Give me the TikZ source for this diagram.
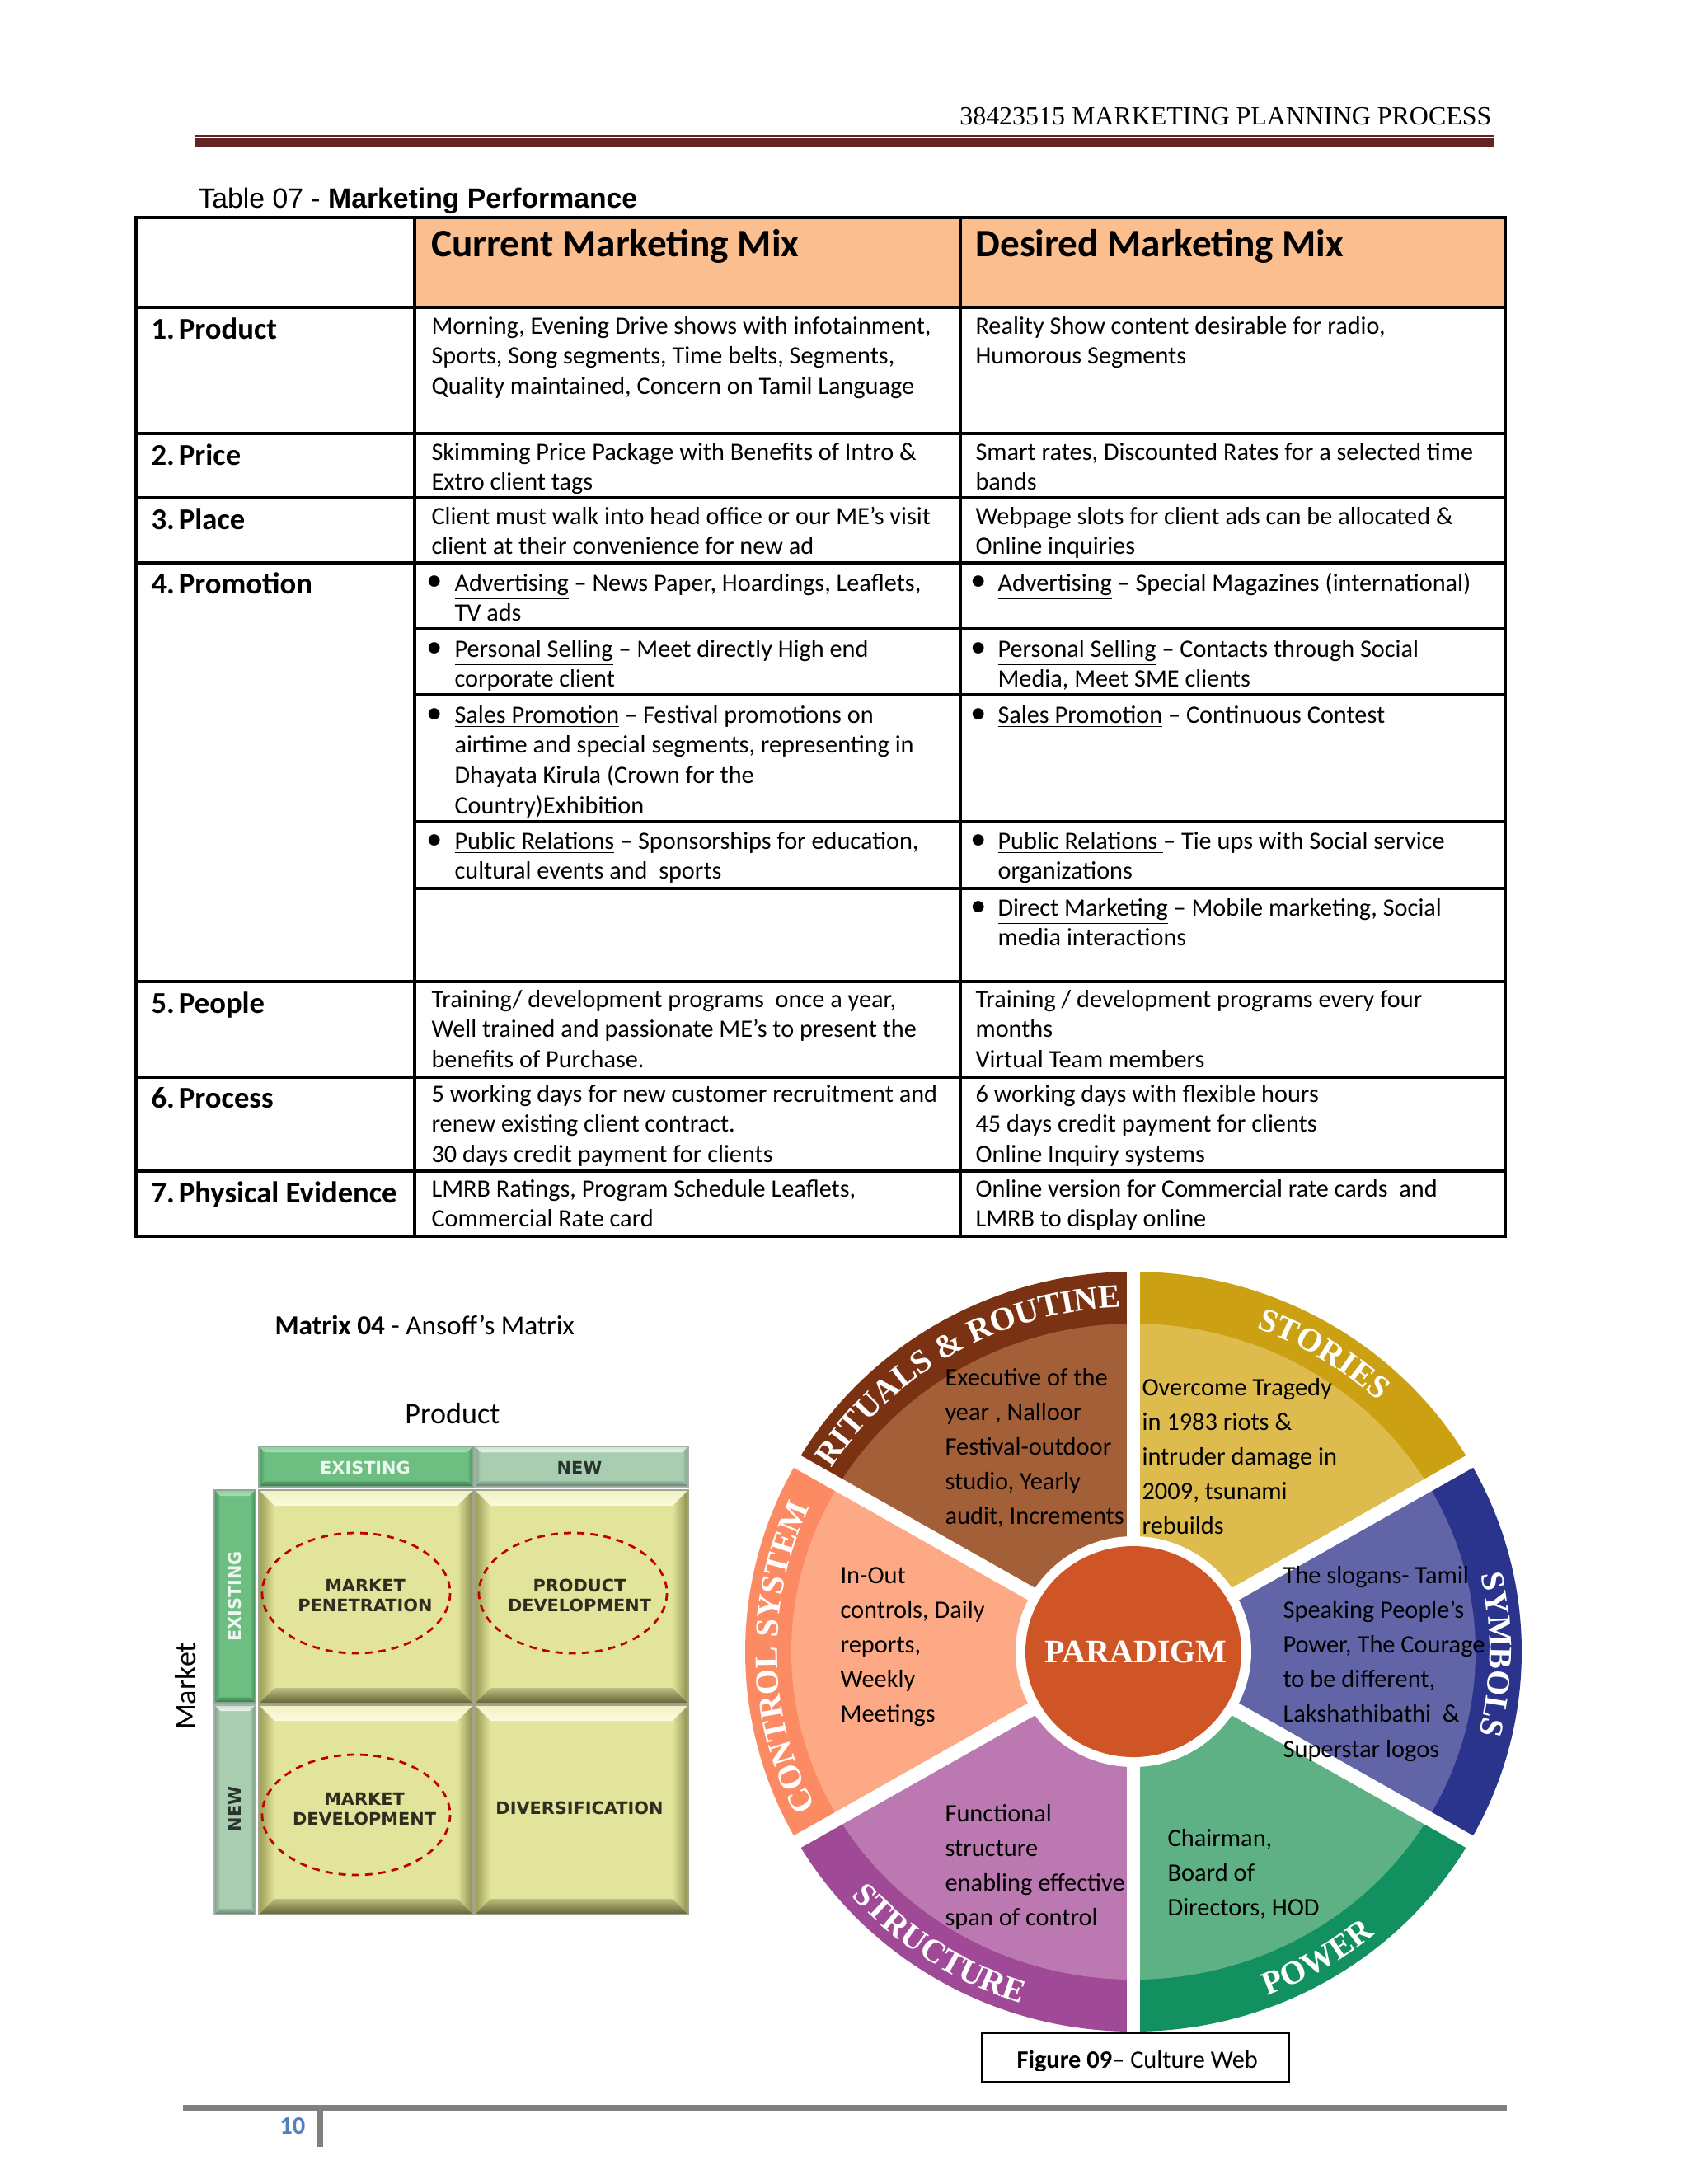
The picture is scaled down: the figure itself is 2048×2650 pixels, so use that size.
\documentclass[tikz,border=0pt]{standalone}
\usepackage{fontspec}
\usepackage{xcolor}
\usetikzlibrary{decorations.text}
\setmainfont{Carlito}
\newfontfamily\headfont{Liberation Serif}
\newfontfamily\captionfont{Liberation Sans}
\newfontfamily\cellfont{DejaVu Sans}

\definecolor{rulered}{HTML}{622423}
\definecolor{headfill}{HTML}{FBBF8F}
\definecolor{footgray}{HTML}{808080}
\definecolor{footblue}{HTML}{4F81BD}
\definecolor{ringred}{HTML}{C00000}
\definecolor{yeltop}{HTML}{FBFBE0}
\definecolor{yelface}{HTML}{E2E49B}
\definecolor{yelleft}{HTML}{9C9E58}
\definecolor{yelright}{HTML}{8E9050}
\definecolor{yelbot}{HTML}{66663A}
\definecolor{yeledge}{HTML}{A3A48F}
\definecolor{gretop}{HTML}{A8DDB3}
\definecolor{greface}{HTML}{6CBF80}
\definecolor{greleft}{HTML}{4F9A65}
\definecolor{greright}{HTML}{4A9360}
\definecolor{grebot}{HTML}{3A7A4C}
\definecolor{greedge}{HTML}{8FA898}
\definecolor{paltop}{HTML}{EAF3EC}
\definecolor{palface}{HTML}{A9CDB1}
\definecolor{palleft}{HTML}{86A890}
\definecolor{palright}{HTML}{7F9E88}
\definecolor{palbot}{HTML}{66846E}
\definecolor{paledge}{HTML}{A5B3A9}
\definecolor{storyband}{HTML}{CBA012}
\definecolor{storyface}{HTML}{DDBB4D}
\definecolor{symband}{HTML}{2B348C}
\definecolor{symface}{HTML}{6165A7}
\definecolor{powband}{HTML}{12905F}
\definecolor{powface}{HTML}{5EB184}
\definecolor{strband}{HTML}{A04A97}
\definecolor{strface}{HTML}{BC78B0}
\definecolor{conband}{HTML}{FC8B63}
\definecolor{conface}{HTML}{FDA985}
\definecolor{ritband}{HTML}{7B3212}
\definecolor{ritface}{HTML}{A25F38}
\definecolor{hubfill}{HTML}{CF5527}

\newcommand{\celllines}[1]{\begin{tabular}[t]{@{}l@{}}#1\end{tabular}}
\newcommand{\wheelfmt}{\headfont\bfseries\fontsize{14.4}{15}\selectfont\color{white}}
\newcommand{\bevelbox}[6]{%
    \fill[#5edge] (#1,#2) rectangle (#3,#4);
    \fill[#5face] ({#1+2},{#2+2}) rectangle ({#3-2},{#4-2});
    \shade[top color=#5top!60!#5face,bottom color=#5top] ({#1+2},{#2+2}) -- ({#3-2},{#2+2}) -- ({#3-2-#6},{#2+2+#6}) -- ({#1+2+#6},{#2+2+#6}) -- cycle;
    \shade[left color=#5left,right color=#5face] ({#1+2},{#2+2}) -- ({#1+2+#6},{#2+2+#6}) -- ({#1+2+#6},{#4-2-#6}) -- ({#1+2},{#4-2}) -- cycle;
    \shade[right color=#5right,left color=#5face] ({#3-2},{#2+2}) -- ({#3-2-#6},{#2+2+#6}) -- ({#3-2-#6},{#4-2-#6}) -- ({#3-2},{#4-2}) -- cycle;
    \shade[bottom color=#5bot,top color=#5face!70!#5bot] ({#1+2},{#4-2}) -- ({#1+2+#6},{#4-2-#6}) -- ({#3-2-#6},{#4-2-#6}) -- ({#3-2},{#4-2}) -- cycle;
}

\tikzset{
    gridline/.style={line width=1.7pt,black},
    bodytext/.style={anchor=base west,inner sep=0pt,font=\fontsize{10.9}{13.3}\selectfont},
    rowname/.style={anchor=base west,inner sep=0pt,font=\fontsize{13.2}{15}\selectfont\bfseries},
    colname/.style={anchor=base west,inner sep=0pt,font=\fontsize{17}{19}\selectfont\bfseries},
    bulletmark/.style={anchor=base,inner sep=0pt,font=\fontsize{14}{15}\selectfont},
    wheeltext/.style={anchor=base west,inner sep=0pt,font=\fontsize{10.95}{15.2}\selectfont},
    celllabel/.style={anchor=base,inner sep=0pt,align=center,text=#1,font=\cellfont\bfseries\fontsize{7.5}{8.3}\selectfont},
    ring/.style={draw=ringred,line width=1pt,dash pattern=on 3.2pt off 2.6pt},
}

\begin{document}
\begin{tikzpicture}[x=0.36pt,y=-0.36pt]
    \useasboundingbox (0,0) rectangle (2048,2650);

    \node[anchor=base east,inner sep=0pt,font=\headfont\fontsize{11.5}{14}\selectfont] (running) at (1810,151) {38423515 MARKETING PLANNING PROCESS};
    \fill[rulered] (236,164) rectangle (1813,166);
    \fill[rulered] (236,168) rectangle (1813,178);
    \node[anchor=base west,inner sep=0pt,font=\captionfont\fontsize{12.15}{14}\selectfont] (tabcap) at (240,252) {Table 07 - \textbf{Marketing Performance}};

    \fill[headfill] (503,264) rectangle (1826,373);
    \foreach \y in {264,373,526,604,683,1191,1307,1421,1500}
        \draw[gridline] (165,\y) -- (1826,\y);
    \foreach \y in {763,843,997,1078}
        \draw[gridline] (503,\y) -- (1826,\y);
    \foreach \x in {165,503,1165,1826}
        \draw[gridline,line cap=rect] (\x,264) -- (\x,1500);

    \node[colname] (curhead) at (523,311) {Current Marketing Mix};
    \node[colname] (deshead) at (1183,311) {Desired Marketing Mix};

    \node[rowname] (rowA) at (183,411) {\makebox[12pt][l]{1.}Product};
    \node[rowname] (rowB) at (183,564) {\makebox[12pt][l]{2.}Price};
    \node[rowname] (rowC) at (183,642) {\makebox[12pt][l]{3.}Place};
    \node[rowname] (rowD) at (183,720) {\makebox[12pt][l]{4.}Promotion};
    \node[rowname] (rowE) at (183,1229) {\makebox[12pt][l]{5.}People};
    \node[rowname] (rowF) at (183,1344) {\makebox[12pt][l]{6.}Process};
    \node[rowname] (rowG) at (183,1459) {\makebox[12pt][l]{7.}Physical Evidence};

    \node[bodytext] (curA) at (523,405) {\celllines{Morning, Evening Drive shows with infotainment,\\Sports, Song segments, Time belts, Segments,\\Quality maintained, Concern on Tamil Language}};
    \node[bodytext] (desA) at (1183,405) {\celllines{Reality Show content desirable for radio,\\Humorous Segments}};
    \node[bodytext] (curB) at (523,558) {\celllines{Skimming Price Package with Benefits of Intro \&\\Extro client tags}};
    \node[bodytext] (desB) at (1183,558) {\celllines{Smart rates, Discounted Rates for a selected time\\bands}};
    \node[bodytext] (curC) at (523,636) {\celllines{Client must walk into head office or our ME’s visit\\client at their convenience for new ad}};
    \node[bodytext] (desC) at (1183,636) {\celllines{Webpage slots for client ads can be allocated \&\\Online inquiries}};

    \foreach \x in {527,1187}
        \foreach \y in {716,797,877,1030}
            \node[bulletmark] (dot\x\y) at (\x,\y) {\textbullet};
    \node[bulletmark] (dotlast) at (1187,1111) {\textbullet};

    \node[bodytext] (curDa) at (551,717) {\celllines{\underline{Advertising} – News Paper, Hoardings, Leaflets,\\TV ads}};
    \node[bodytext] (desDa) at (1210,717) {\celllines{\underline{Advertising} – Special Magazines (international)}};
    \node[bodytext] (curDb) at (551,797) {\celllines{\underline{Personal Selling} – Meet directly High end\\corporate client}};
    \node[bodytext] (desDb) at (1210,797) {\celllines{\underline{Personal Selling} – Contacts through Social\\Media, Meet SME clients}};
    \node[bodytext] (curDc) at (551,877) {\celllines{\underline{Sales Promotion} – Festival promotions on\\airtime and special segments, representing in\\Dhayata Kirula (Crown for the\\Country)Exhibition}};
    \node[bodytext] (desDc) at (1210,877) {\celllines{\underline{Sales Promotion} – Continuous Contest}};
    \node[bodytext] (curDd) at (551,1030) {\celllines{\underline{Public Relations} – Sponsorships for education,\\cultural events and~ sports}};
    \node[bodytext] (desDd) at (1210,1030) {\celllines{\underline{Public Relations }– Tie ups with Social service\\organizations}};
    \node[bodytext] (desDe) at (1210,1111) {\celllines{\underline{Direct Marketing} – Mobile marketing, Social\\media interactions}};

    \node[bodytext] (curE) at (523,1222) {\celllines{Training/ development programs~ once a year,\\Well trained and passionate ME’s to present the\\benefits of Purchase.}};
    \node[bodytext] (desE) at (1183,1222) {\celllines{Training / development programs every four\\months\\Virtual Team members}};
    \node[bodytext] (curF) at (523,1337) {\celllines{5 working days for new customer recruitment and\\renew existing client contract.\\30 days credit payment for clients}};
    \node[bodytext] (desF) at (1183,1337) {\celllines{6 working days with flexible hours\\45 days credit payment for clients\\Online Inquiry systems}};
    \node[bodytext] (curG) at (523,1452) {\celllines{LMRB Ratings, Program Schedule Leaflets,\\Commercial Rate card}};
    \node[bodytext] (desG) at (1183,1452) {\celllines{Online version for Commercial rate cards~ and\\LMRB to display online}};

    \node[anchor=base west,inner sep=0pt,font=\fontsize{12}{14}\selectfont] (mattitle) at (333,1619) {\textbf{Matrix 04} - Ansoff’s Matrix};
    \node[anchor=base,inner sep=0pt,font=\fontsize{13}{15}\selectfont] (prodlabel) at (549,1727) {Product};
    \node[anchor=base,inner sep=0pt,rotate=90,font=\fontsize{13}{15}\selectfont] (marklabel) at (237,2046) {Market};

    \bevelbox{313}{1754}{575}{1805}{gre}{6}
    \bevelbox{575}{1754}{836}{1805}{pal}{6}
    \bevelbox{259}{1807}{311}{2067}{gre}{6}
    \bevelbox{259}{2068}{311}{2324}{pal}{6}
    \bevelbox{313}{1807}{575}{2068}{yel}{18}
    \bevelbox{575}{1807}{836}{2068}{yel}{18}
    \bevelbox{313}{2068}{575}{2324}{yel}{18}
    \bevelbox{575}{2068}{836}{2324}{yel}{18}

    \node[celllabel=white!88!greface] (hexist) at (443,1788) {EXISTING};
    \node[celllabel=black!75!palface] (hnew) at (703,1788) {NEW};
    \node[celllabel=white!88!greface,rotate=90] (vexist) at (292,1937) {EXISTING};
    \node[celllabel=black!75!palface,rotate=90] (vnew) at (292,2195) {NEW};
    \node[celllabel=black!80!yelface] (penet) at (443,1955) {MARKET\\PENETRATION};
    \node[celllabel=black!80!yelface] (proddev) at (703,1955) {PRODUCT\\DEVELOPMENT};
    \node[celllabel=black!80!yelface] (markdev) at (442,2214) {MARKET\\DEVELOPMENT};
    \node[celllabel=black!80!yelface] (divers) at (703,2201) {DIVERSIFICATION};

    \draw[ring] (432,1933) ellipse [x radius=114,y radius=73];
    \draw[ring] (695,1933) ellipse [x radius=114,y radius=73];
    \draw[ring] (432,2202) ellipse [x radius=114,y radius=73];

    \begin{scope}[shift={(1375,2004)},y=0.36pt]
        \foreach \ang/\band/\face in {90/storyband/storyface,30/symband/symface,-30/powband/powface,-90/strband/strface,-150/conband/conface,150/ritband/ritface}{
            \fill[\band] (0,0) -- (\ang:471 and 461) arc [start angle=\ang,end angle=\ang-60,x radius=471,y radius=461] -- cycle;
            \fill[\face] (0,0) -- (\ang:415 and 398) arc [start angle=\ang,end angle=\ang-60,x radius=415,y radius=398] -- cycle;
        }
        \foreach \ang in {30,90,150}
            \draw[white,line width=6.1pt] (\ang:490 and 480) -- ({\ang+180}:490 and 480);
        \fill[white] (0,0) ellipse [x radius=143,y radius=140];
        \fill[hubfill] (0,0) ellipse [x radius=131,y radius=128];
        \path[decorate,decoration={text along path,text align=center,text={|\wheelfmt|RITUALS {\&} ROUTINE}}] (153:432 and 418) arc [start angle=153,end angle=87,x radius=432,y radius=418];
        \path[decorate,decoration={text along path,text align=center,text={|\wheelfmt|STORIES}}] (90:432 and 418) arc [start angle=90,end angle=26,x radius=432,y radius=418];
        \path[decorate,decoration={text along path,text align=center,text={|\wheelfmt|SYMBOLS}}] (30:432 and 418) arc [start angle=30,end angle=-31,x radius=432,y radius=418];
        \path[decorate,decoration={text along path,text align=center,text={|\wheelfmt|CONTROL SYSTEM}}] (215:432 and 418) arc [start angle=215,end angle=147,x radius=432,y radius=418];
        \path[decorate,decoration={text along path,text align=center,text={|\wheelfmt|STRUCTURE}}] (205:457 and 447) arc [start angle=205,end angle=269,x radius=457,y radius=447];
        \path[decorate,decoration={text along path,text align=center,text={|\wheelfmt|POWER}}] (-90:457 and 447) arc [start angle=-90,end angle=-29,x radius=457,y radius=447];
    \end{scope}
    \node[anchor=center,inner sep=0pt,text=white,font=\headfont\bfseries\fontsize{14.4}{16}\selectfont] (hub) at (1378,2004) {PARADIGM};

    \node[wheeltext] (txtrit) at (1146,1681) {\celllines{Executive of the\\year , Nalloor\\Festival-outdoor\\studio, Yearly\\audit, Increments}};
    \node[wheeltext] (txtsto) at (1385,1693) {\celllines{Overcome Tragedy\\in 1983 riots \&\\intruder damage in\\2009, tsunami\\rebuilds}};
    \node[wheeltext] (txtsym) at (1556,1921) {\celllines{The slogans- Tamil\\Speaking People’s\\Power, The Courage\\to be different,\\Lakshathibathi~ \&\\Superstar logos}};
    \node[wheeltext] (txtcon) at (1019,1921) {\celllines{In-Out\\controls, Daily\\reports,\\Weekly\\Meetings}};
    \node[wheeltext] (txtstr) at (1146,2210) {\celllines{Functional\\structure\\enabling effective\\span of control}};
    \node[wheeltext] (txtpow) at (1416,2240) {\celllines{Chairman,\\Board of\\Directors, HOD}};

    \begin{scope}
        \clip (1191,2467) rectangle (1564,2512);
        \node[wheeltext] (figcap) at (1233,2509) {\textbf{Figure 09}– Culture Web};
    \end{scope}
    \draw[line width=0.9pt] (1191,2467) rectangle (1564,2526);

    \fill[footgray] (222,2554) rectangle (1828,2561);
    \fill[footgray] (385,2561) rectangle (392,2605);
    \node[anchor=base east,inner sep=0pt,text=footblue,font=\fontsize{11}{13}\selectfont\bfseries] (pageno) at (371,2589) {10};
\end{tikzpicture}
\end{document}
